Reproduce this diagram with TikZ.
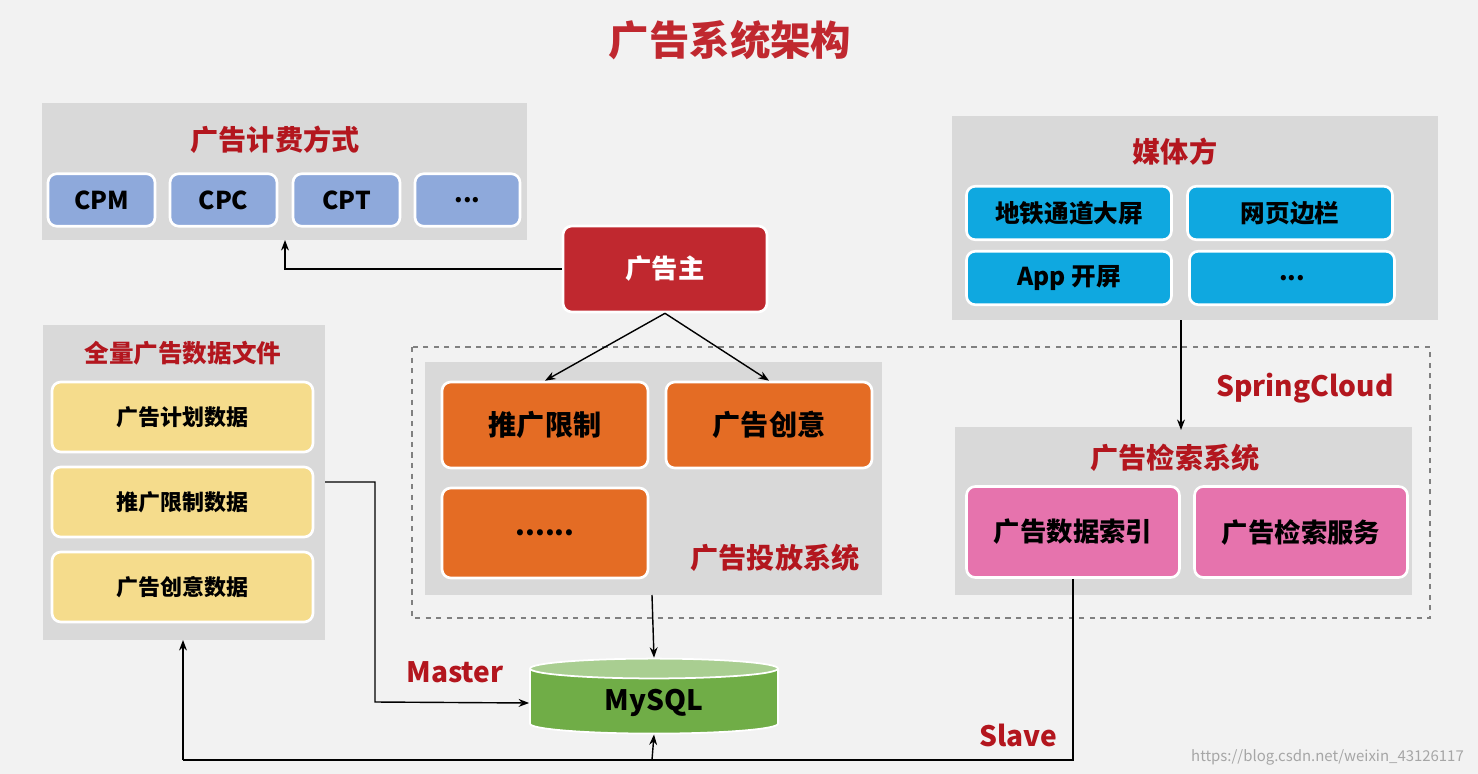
\documentclass[tikz,border=0pt]{standalone}
\usepackage{fontspec}
\setmainfont{Noto Sans CJK SC}
\usetikzlibrary{shapes.geometric,arrows.meta}
\definecolor{bg}{HTML}{F2F2F2}
\definecolor{panel}{HTML}{D9D9D9}
\definecolor{dred}{HTML}{C0282F}
\definecolor{tred}{HTML}{B3161E}
\definecolor{cblue}{HTML}{8EA9DB}
\definecolor{ccyan}{HTML}{0FA8E0}
\definecolor{corange}{HTML}{E46C24}
\definecolor{cpink}{HTML}{E673AD}
\definecolor{cyellow}{HTML}{F5DC8C}
\definecolor{cgreen}{HTML}{70AD47}
\tikzset{
 x=0.02cm,y=-0.02cm,
 pnl/.style={fill=panel,draw=none},
 bx/.style={draw=white,line width=1.5pt,rounded corners=5pt,font=\bfseries},
 ptitle/.style={text=tred,font=\bfseries\itshape\fontsize{16}{18}\selectfont},
 conn/.style={line width=0.8pt,-{Stealth[length=6pt]}},
 plain/.style={line width=0.8pt},
}
\begin{document}
\begin{tikzpicture}
\fill[bg] (0,0) rectangle (1478,774);
\useasboundingbox (0,0) rectangle (1478,774);
\node (title) at (730,40) {\color{dred}\bfseries\fontsize{23}{26}\selectfont 广告系统架构};
% billing
\fill[pnl] (42,103) rectangle (527,240);
\coordinate (bpb) at (285,240);
\node[ptitle] at (275,140) {广告计费方式};
\foreach \n/\a/\b/\t in {cpm/48/155/CPM,cpc/170/277/CPC,cpt/293/400/CPT,cdots/415/520/{...}}{
 \node[bx,fill=cblue,minimum width={(\b-\a)*0.02cm},minimum height=1.05cm,font=\bfseries\fontsize{14}{16}\selectfont] (\n) at ({(\a+\b)/2},200) {\t};}
% advertiser
\node[bx,fill=dred,text=white,minimum width=4.08cm,minimum height=1.72cm,font=\bfseries\fontsize{15}{18}\selectfont] (adv) at (665,269) {广告主};
\draw[conn] (adv.west) -- (285,269) -- (bpb);
% media
\fill[pnl] (952,116) rectangle (1438,320);
\coordinate (mb) at (1181,320);
\node[ptitle] at (1175,152) {媒体方};
\foreach \n/\x/\y/\t in {m1/1069/213/地铁通道大屏,m2/1290/213/网页边栏,m3/1069/278/App 开屏,m4/1292/278/{...}}{
 \node[bx,fill=ccyan,minimum width=4.1cm,minimum height=1.07cm,font=\bfseries\fontsize{14}{16}\selectfont] (\n) at (\x,\y) {\t};}
% dashed
\draw[dashed,gray,line width=0.6pt] (412,347) rectangle (1430,618);
\node[text=tred,font=\bfseries\fontsize{16}{18}\selectfont] at (1305,388) {SpringCloud};
% delivery
\fill[pnl] (425,362) rectangle (882,595);
\coordinate (db) at (652,595);
\node[bx,fill=corange,minimum width=4.12cm,minimum height=1.72cm,font=\bfseries\fontsize{16}{18}\selectfont] (d1) at (545,425) {推广限制};
\node[bx,fill=corange,minimum width=4.12cm,minimum height=1.72cm,font=\bfseries\fontsize{16}{18}\selectfont] (d2) at (769,425) {广告创意};
\node[bx,fill=corange,minimum width=4.12cm,minimum height=1.8cm,font=\bfseries\fontsize{16}{18}\selectfont] (d3) at (545,533) {......};
\node[ptitle] at (775,558) {广告投放系统};
\draw[conn] (adv.south) -- (d1.north);
\draw[conn] (adv.south) -- (d2.north);
% retrieval
\fill[pnl] (955,427) rectangle (1412,595);
\node[ptitle] at (1175,458) {广告检索系统};
\node[bx,fill=cpink,minimum width=4.26cm,minimum height=1.82cm,font=\bfseries\fontsize{15}{18}\selectfont] (r1) at (1073,532) {广告数据索引};
\node[bx,fill=cpink,minimum width=4.26cm,minimum height=1.82cm,font=\bfseries\fontsize{15}{18}\selectfont] (r2) at (1301,532) {广告检索服务};
\coordinate (rt) at (1181,430);
\draw[conn] (mb) -- (rt);
% files
\fill[pnl] (43,325) rectangle (325,640);
\coordinate (fb) at (183,640);
\node[ptitle,font=\bfseries\itshape\fontsize{14}{16}\selectfont] at (183,353) {全量广告数据文件};
\foreach \n/\y/\t in {f1/417/广告计划数据,f2/502/推广限制数据,f3/587/广告创意数据}{
 \node[bx,fill=cyellow,minimum width=5.22cm,minimum height=1.4cm,font=\bfseries\fontsize{12.5}{15}\selectfont] (\n) at (182.5,\y) {\t};}
% mysql
\node[cylinder,shape border rotate=90,aspect=0.18,draw=white,line width=1pt,minimum width=4.96cm,minimum height=1.5cm,font=\bfseries\fontsize{16}{18}\selectfont,cylinder uses custom fill,cylinder body fill=cgreen,cylinder end fill=cgreen!60] (db1) at (654,703) {MySQL};
\draw[conn] (db) -- (db1.top);
\draw[conn] (325,482) -- (375,482) -- (375,702) -- (db1.west);
\node[text=tred,font=\bfseries\fontsize{16}{18}\selectfont] at (455,672) {Master};
\draw[plain] (r1.south) -- (1073,760) -- (183,760);
\draw[conn] (183,760) -- (fb);
\draw[conn] (652,760) -- (db1.bottom);
\node[text=tred,font=\bfseries\fontsize{16}{18}\selectfont] at (1018,735) {Slave};
\node[text=gray!70,font=\fontsize{8.5}{10}\selectfont,anchor=east] at (1470,757) {https://blog.csdn.net/weixin\_43126117};
\end{tikzpicture}
\end{document}
